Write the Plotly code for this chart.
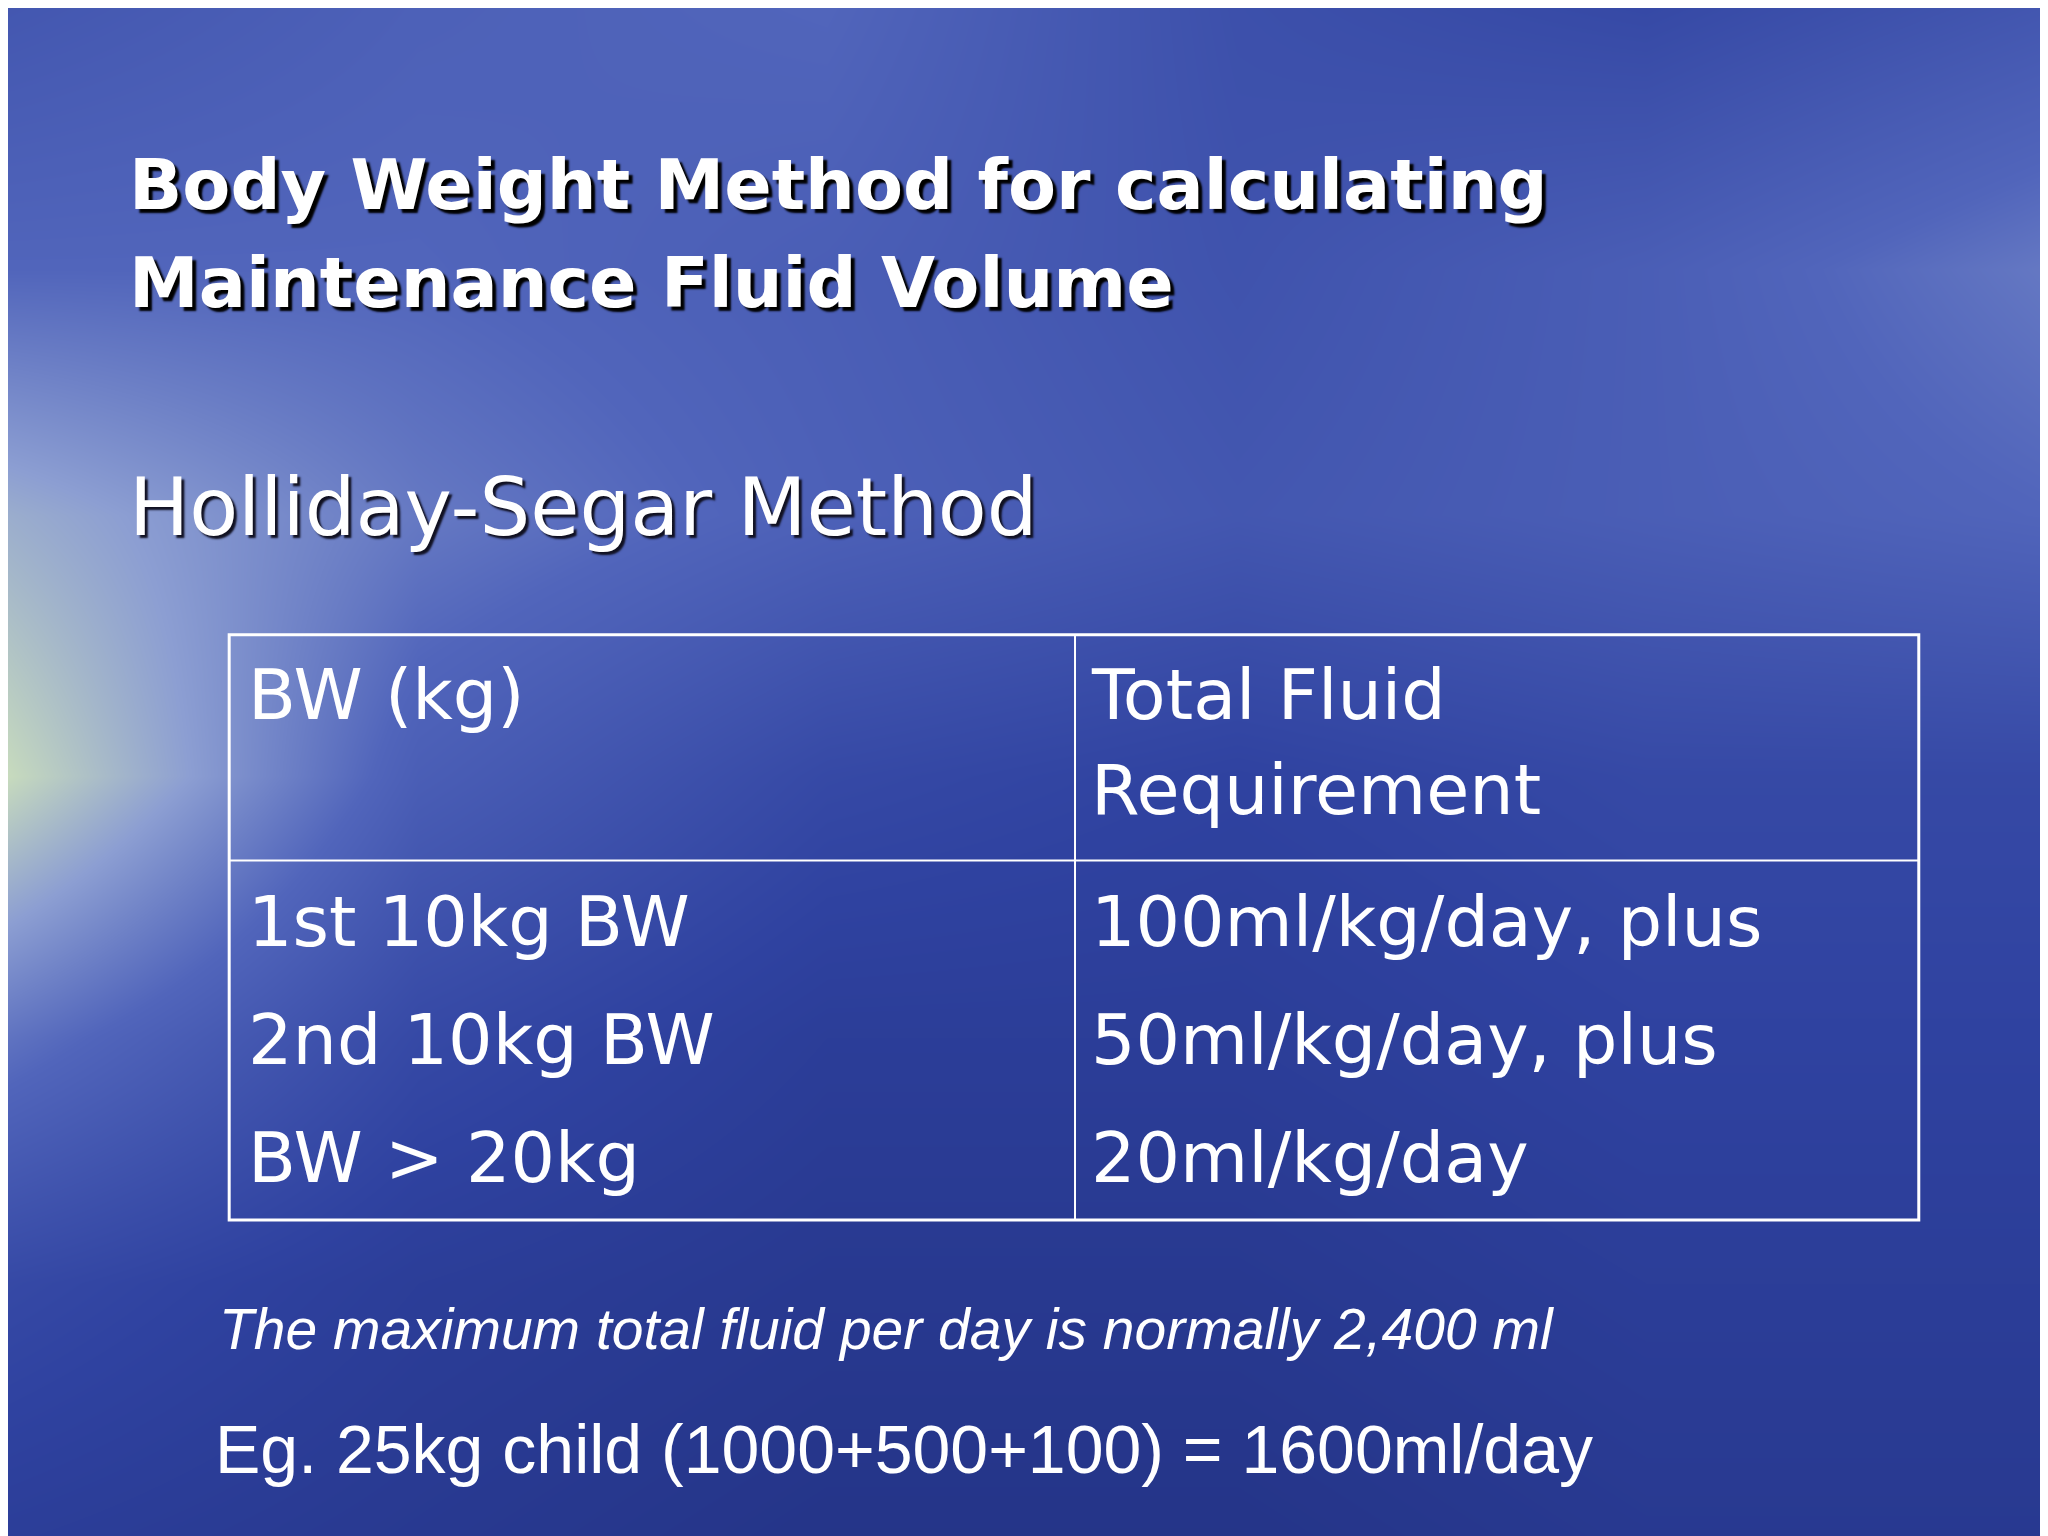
import plotly.graph_objects as go

title_lines = ["Body Weight Method for calculating", "Maintenance Fluid Volume"]
subtitle = "Holliday-Segar Method"
header = [["BW (kg)"], ["Total Fluid", "Requirement"]]
col_bw = ["1st 10kg BW", "2nd 10kg BW", "BW > 20kg"]
col_fluid = ["100ml/kg/day, plus", "50ml/kg/day, plus", "20ml/kg/day"]
note = "The maximum total fluid per day is normally 2,400 ml"
example = "Eg. 25kg child (1000+500+100) = 1600ml/day"

# background glow grid (bottom row first)
bg = [
    [0.25, 0.20, 0.15, 0.15, 0.20, 0.20],
    [0.35, 0.25, 0.20, 0.20, 0.25, 0.25],
    [0.60, 0.35, 0.25, 0.25, 0.30, 0.30],
    [0.95, 0.50, 0.35, 0.30, 0.35, 0.35],
    [0.80, 0.62, 0.52, 0.45, 0.50, 0.55],
    [0.55, 0.55, 0.50, 0.42, 0.50, 0.62],
    [0.45, 0.52, 0.55, 0.40, 0.35, 0.45],
]
scale = [[0, "#1a2770"], [0.3, "#2f42a0"], [0.55, "#5165bb"],
         [0.75, "#8c9ed2"], [1, "#d6eab8"]]

fig = go.Figure(go.Heatmap(z=bg, x=[0, 0.2, 0.4, 0.6, 0.8, 1],
                           y=[0, 0.17, 0.33, 0.5, 0.67, 0.83, 1],
                           colorscale=scale, zmin=0, zmax=1, zsmooth="best",
                           showscale=False, hoverinfo="skip"))

white = "white"
ann = []
for i, t in enumerate(title_lines):
    ann.append(dict(text="<b>%s</b>" % t, x=0.058, y=0.885 - i * 0.064,
                    font=dict(family="DejaVu Sans", size=70, color=white,
                              shadow="4px 4px 2px #000")))
ann.append(dict(text=subtitle, x=0.058, y=0.675,
                font=dict(family="DejaVu Sans", size=80, color=white, shadow="3px 3px 2px #112")))

cell_font = dict(family="DejaVu Sans", size=70, color=white)
xl, xr = 0.116, 0.528
for j, t in enumerate(header[0]):
    ann.append(dict(text=t, x=xl, y=0.553 - j * 0.062, font=cell_font))
for j, t in enumerate(header[1]):
    ann.append(dict(text=t, x=xr, y=0.553 - j * 0.062, font=cell_font))
for j, (a, b) in enumerate(zip(col_bw, col_fluid)):
    ann.append(dict(text=a, x=xl, y=0.405 - j * 0.077, font=cell_font))
    ann.append(dict(text=b, x=xr, y=0.405 - j * 0.077, font=cell_font))

ann.append(dict(text="<i>%s</i>" % note, x=0.102, y=0.140,
                font=dict(family="Liberation Sans", size=57, color=white)))
ann.append(dict(text=example, x=0.100, y=0.062,
                font=dict(family="Liberation Sans", size=68, color=white)))
for a in ann:
    a.update(xref="paper", yref="paper", xanchor="left", yanchor="middle", showarrow=False)

line = dict(color=white, width=3)
shapes = [
    dict(type="rect", x0=0.108, x1=0.933, y0=0.211, y1=0.592, line=line),
    dict(type="line", x0=0.521, x1=0.521, y0=0.211, y1=0.592, line=dict(color=white, width=2)),
    dict(type="line", x0=0.108, x1=0.933, y0=0.445, y1=0.445, line=dict(color=white, width=2)),
]
for s in shapes:
    s.update(xref="paper", yref="paper")

fig.update_layout(width=2048, height=1536, margin=dict(l=0, r=0, t=0, b=0),
                  xaxis=dict(visible=False, range=[0, 1]),
                  yaxis=dict(visible=False, range=[0, 1]),
                  annotations=ann, shapes=shapes, paper_bgcolor="#2c3f9a")
fig.write_html("out.html")
